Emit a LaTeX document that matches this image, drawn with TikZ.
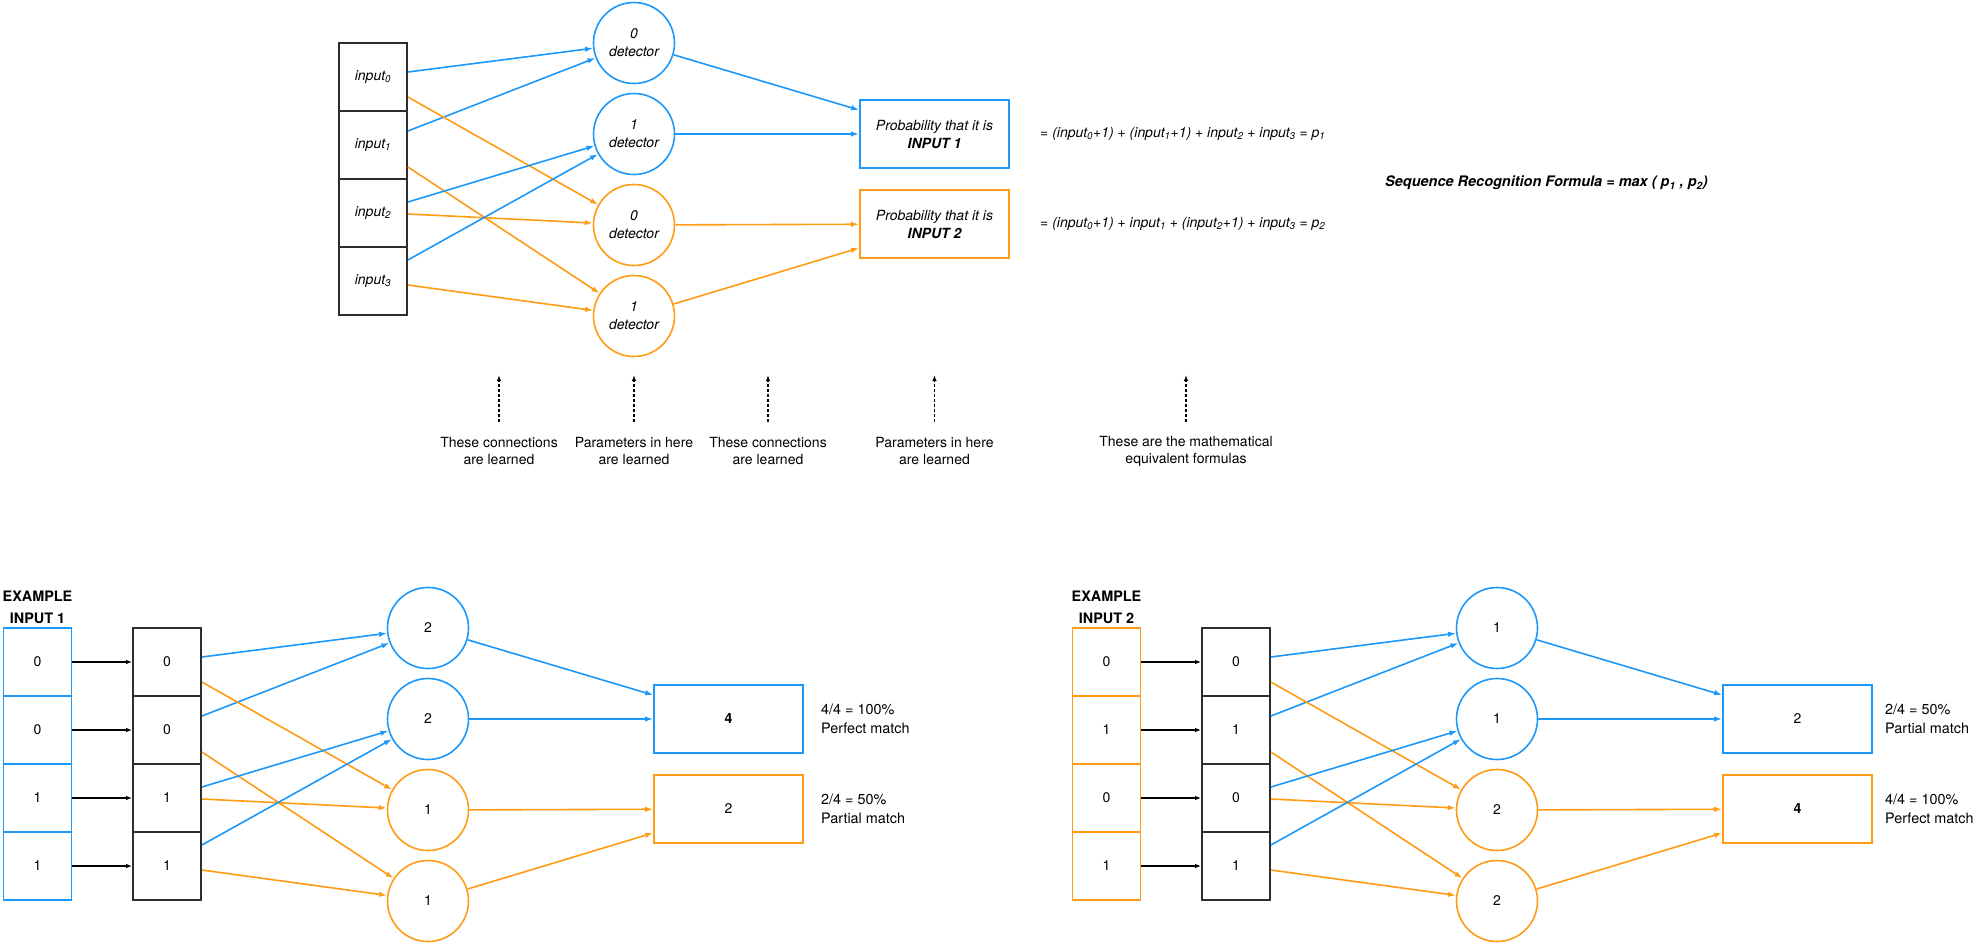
\documentclass[tikz,border=0pt]{standalone}
\usepackage{fontspec}
\setmainfont{TeX Gyre Heros}
\usetikzlibrary{arrows.meta}
\definecolor{nblue}{RGB}{28,152,250}
\definecolor{norange}{RGB}{255,155,20}
\definecolor{boxgray}{RGB}{45,45,45}
\begin{document}
\begin{tikzpicture}[x=1pt,y=-1pt,
  every node/.style={font=\fontsize{14}{18}\selectfont, inner sep=0pt, align=center},
  ital/.style={font=\fontsize{14}{18}\selectfont\itshape},
  cell/.style={draw=boxgray, line width=1.8pt, minimum width=68pt, minimum height=68pt},
  bcell/.style={draw=nblue, line width=1.8pt, minimum width=68pt, minimum height=68pt},
  ocell/.style={draw=norange, line width=1.8pt, minimum width=68pt, minimum height=68pt},
  bcirc/.style={circle, draw=nblue, line width=1.6pt, minimum size=81pt},
  ocirc/.style={circle, draw=norange, line width=1.6pt, minimum size=81pt},
  bbox/.style={draw=nblue, line width=1.8pt, minimum width=149pt, minimum height=68pt},
  obox/.style={draw=norange, line width=1.8pt, minimum width=149pt, minimum height=68pt},
  bconn/.style={nblue, line width=1.6pt, -{Latex[length=8pt,width=5.5pt]}},
  oconn/.style={norange, line width=1.6pt, -{Latex[length=8pt,width=5.5pt]}},
  kconn/.style={black, line width=1.3pt, -{Latex[length=6pt,width=4.5pt]}},
  dconn/.style={black, line width=1.3pt, dash pattern=on 3pt off 2pt, -{Latex[length=6pt,width=4.5pt]}},
  result/.style={align=left, anchor=west, font=\fontsize{14.4}{19}\selectfont},
  exlabel/.style={font=\fontsize{14.4}{22}\selectfont\bfseries}
]
\useasboundingbox (0,0) rectangle (1984,943);

% ---------------- top network ----------------
\foreach \i/\y in {0/77,1/145,2/213,3/281}
  \node[cell, ital] (in\i) at (373,\y) {input\textsubscript{\i}};
\node[bcirc, ital] (c0) at (634,43) {0\\detector};
\node[bcirc, ital] (c1) at (634,134) {1\\detector};
\node[ocirc, ital] (c2) at (634,225) {0\\detector};
\node[ocirc, ital] (c3) at (634,316) {1\\detector};
\node[bbox, ital] (o1) at (934.5,134) {Probability that it is\\\textbf{INPUT 1}};
\node[obox, ital] (o2) at (934.5,224) {Probability that it is\\\textbf{INPUT 2}};

\draw[bconn] ([yshift=5pt]in0.east) -- (c0);
\draw[bconn] ([yshift=14pt]in1.east) -- (c0);
\draw[oconn] ([yshift=-20pt]in0.east) -- (c2);
\draw[oconn] ([yshift=-22pt]in1.east) -- (c3);
\draw[bconn] ([yshift=11pt]in2.east) -- (c1);
\draw[oconn] ([yshift=-1pt]in2.east) -- (c2);
\draw[bconn] ([yshift=21pt]in3.east) -- (c1);
\draw[oconn] ([yshift=-4pt]in3.east) -- (c3);
\draw[bconn] (c0) -- ([yshift=24pt]o1.west);
\draw[bconn] (c1) -- (o1);
\draw[oconn] (c2) -- (o2);
\draw[oconn] (c3) -- ([yshift=-24pt]o2.west);

\node[ital, anchor=west] (f1) at (1040,134) {= (input\textsubscript{0}+1) + (input\textsubscript{1}+1) + input\textsubscript{2} + input\textsubscript{3} = p\textsubscript{1}};
\node[ital, anchor=west] (f2) at (1040,224) {= (input\textsubscript{0}+1) + input\textsubscript{1} + (input\textsubscript{2}+1) + input\textsubscript{3} = p\textsubscript{2}};
\node[anchor=west, font=\fontsize{14.5}{18}\selectfont\bfseries\itshape] (seq) at (1385,183) {Sequence Recognition Formula = max ( p\textsubscript{1} , p\textsubscript{2})};

% dashed annotation arrows
\foreach \n/\x/\t in {1/499/{These connections\\are learned},
                      2/634/{Parameters in here\\are learned},
                      3/768/{These connections\\are learned},
                      4/934.5/{Parameters in here\\are learned},
                      5/1186/{These are the mathematical\\equivalent formulas}}{
  \coordinate (ds\n) at (\x,422);
  \coordinate (de\n) at (\x,375);
  \draw[dconn] (ds\n) -- (de\n);
  \node[font=\fontsize{14}{17}\selectfont] (lab\n) at (\x,451) {\t};
}

% ---------------- bottom left example ----------------
\begin{scope}[shift={(-206,585)}, name prefix=L-]
  \node[exlabel] (ex) at (243.5,22) {EXAMPLE\\INPUT 1};
  \foreach \i/\y/\v in {0/77/0,1/145/0,2/213/1,3/281/1}{
    \node[bcell] (a\i) at (243.5,\y) {\v};
    \node[cell] (in\i) at (373,\y) {\v};
    \draw[kconn] (a\i) -- (in\i);
  }
  \node[bcirc] (c0) at (634,43) {2};
  \node[bcirc] (c1) at (634,134) {2};
  \node[ocirc] (c2) at (634,225) {1};
  \node[ocirc] (c3) at (634,316) {1};
  \node[bbox] (o1) at (934.5,134) {\textbf{4}};
  \node[obox] (o2) at (934.5,224) {2};
  \draw[bconn] ([yshift=5pt]in0.east) -- (c0);
  \draw[bconn] ([yshift=14pt]in1.east) -- (c0);
  \draw[oconn] ([yshift=-20pt]in0.east) -- (c2);
  \draw[oconn] ([yshift=-22pt]in1.east) -- (c3);
  \draw[bconn] ([yshift=11pt]in2.east) -- (c1);
  \draw[oconn] ([yshift=-1pt]in2.east) -- (c2);
  \draw[bconn] ([yshift=21pt]in3.east) -- (c1);
  \draw[oconn] ([yshift=-4pt]in3.east) -- (c3);
  \draw[bconn] (c0) -- ([yshift=24pt]o1.west);
  \draw[bconn] (c1) -- (o1);
  \draw[oconn] (c2) -- (o2);
  \draw[oconn] (c3) -- ([yshift=-24pt]o2.west);
  \node[result] (r1) at ([xshift=17pt]o1.east) {4/4 = 100\%\\Perfect match};
  \node[result] (r2) at ([xshift=17pt]o2.east) {2/4 = 50\%\\Partial match};
\end{scope}

% ---------------- bottom right example ----------------
\begin{scope}[shift={(863,585)}, name prefix=R-]
  \node[exlabel] (ex) at (243.5,22) {EXAMPLE\\INPUT 2};
  \foreach \i/\y/\v in {0/77/0,1/145/1,2/213/0,3/281/1}{
    \node[ocell] (a\i) at (243.5,\y) {\v};
    \node[cell] (in\i) at (373,\y) {\v};
    \draw[kconn] (a\i) -- (in\i);
  }
  \node[bcirc] (c0) at (634,43) {1};
  \node[bcirc] (c1) at (634,134) {1};
  \node[ocirc] (c2) at (634,225) {2};
  \node[ocirc] (c3) at (634,316) {2};
  \node[bbox] (o1) at (934.5,134) {2};
  \node[obox] (o2) at (934.5,224) {\textbf{4}};
  \draw[bconn] ([yshift=5pt]in0.east) -- (c0);
  \draw[bconn] ([yshift=14pt]in1.east) -- (c0);
  \draw[oconn] ([yshift=-20pt]in0.east) -- (c2);
  \draw[oconn] ([yshift=-22pt]in1.east) -- (c3);
  \draw[bconn] ([yshift=11pt]in2.east) -- (c1);
  \draw[oconn] ([yshift=-1pt]in2.east) -- (c2);
  \draw[bconn] ([yshift=21pt]in3.east) -- (c1);
  \draw[oconn] ([yshift=-4pt]in3.east) -- (c3);
  \draw[bconn] (c0) -- ([yshift=24pt]o1.west);
  \draw[bconn] (c1) -- (o1);
  \draw[oconn] (c2) -- (o2);
  \draw[oconn] (c3) -- ([yshift=-24pt]o2.west);
  \node[result] (r1) at ([xshift=12pt]o1.east) {2/4 = 50\%\\Partial match};
  \node[result] (r2) at ([xshift=12pt]o2.east) {4/4 = 100\%\\Perfect match};
\end{scope}
\end{tikzpicture}
\end{document}
